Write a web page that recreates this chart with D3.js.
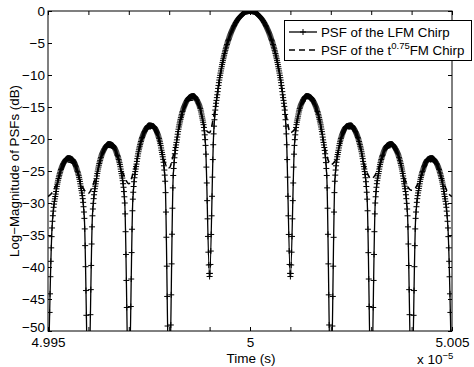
<!DOCTYPE html>
<html>
<head>
<meta charset="utf-8">
<script src="https://cdn.jsdelivr.net/npm/d3@7"></script>
<style>
  body { margin: 0; background: #fff; }
  svg { display: block; font-family: "Liberation Sans", Arial, sans-serif; }
</style>
</head>
<body>
<svg id="chart" width="474" height="367"></svg>
<script>
// samples are 0.0001 (x 1e-5 s) apart, starting at the left edge
const timeStart = 4.995;
const timeStep = 0.0001;

// PSF of the LFM chirp (dB)
const lfmPsf = [
  -60, -33.9, -28.2, -25.2, -23.6, -23.0, -23.2, -24.5, -27.0, -32.4,
  -60, -32.0, -26.2, -23.1, -21.5, -20.8, -21.0, -22.2, -24.7, -30.0,
  -60, -29.4, -23.5, -20.4, -18.7, -17.9, -18.0, -19.0, -21.4, -26.6,
  -60, -25.7, -19.7, -16.4, -14.5, -13.5, -13.3, -14.1, -16.1, -21.0,
  -41.5, -19.2, -12.6, -8.7, -5.9, -3.9, -2.4, -1.3, -0.6, -0.1,
  0,
  -0.1, -0.6, -1.3, -2.4, -3.9, -5.9, -8.7, -12.6, -19.2,
  -41.5, -21.0, -16.1, -14.1, -13.3, -13.5, -14.5, -16.4, -19.7, -25.7,
  -60, -26.6, -21.4, -19.0, -18.0, -17.9, -18.7, -20.4, -23.5, -29.4,
  -60, -30.0, -24.7, -22.2, -21.0, -20.8, -21.5, -23.1, -26.2, -32.0,
  -60, -32.4, -27.0, -24.5, -23.2, -23.0, -23.6, -25.2, -28.2, -33.9,
  -60
];

// PSF of the t^0.75 FM chirp (dB)
const nlfmPsf = [
  -29.0, -28.4, -27.2, -25.5, -24.2, -23.6, -23.8, -24.8, -26.6, -28.0,
  -28.5, -27.4, -25.6, -23.4, -21.9, -21.3, -21.5, -22.6, -24.4, -26.0,
  -27.0, -25.5, -23.2, -20.8, -19.1, -18.4, -18.5, -19.5, -21.6, -23.8,
  -24.5, -22.6, -19.8, -16.9, -15.0, -14.0, -13.9, -14.6, -16.3, -18.5,
  -19.0, -16.5, -12.8, -8.8, -5.9, -3.9, -2.4, -1.3, -0.6, -0.1,
  0,
  -0.1, -0.6, -1.3, -2.4, -3.9, -5.9, -8.8, -12.8, -16.5,
  -19.0, -18.5, -16.3, -14.6, -13.9, -14.0, -15.0, -16.9, -19.8, -22.6,
  -24.0, -23.5, -21.6, -19.5, -18.5, -18.4, -19.1, -20.8, -23.2, -25.3,
  -26.2, -25.6, -24.2, -22.6, -21.5, -21.3, -21.9, -23.4, -25.6, -27.4,
  -28.0, -27.6, -26.4, -24.8, -23.8, -23.5, -24.0, -25.3, -27.0, -28.4,
  -29.0
];

const timeTicks = [4.995, 4.996, 4.997, 4.998, 4.999, 5, 5.001, 5.002, 5.003, 5.004, 5.005];
const timeTickLabels = ["4.995", "", "", "", "", "5", "", "", "", "", "5.005"];
const dbTicks = [0, -5, -10, -15, -20, -25, -30, -35, -40, -45, -50];

const legendLabels = ["PSF of the LFM Chirp", "PSF of the t", "0.75", "FM Chirp"];

const box = { left: 48, right: 452, top: 11, bottom: 331 };
const fontSize = 13.5;

const $svg = d3.select("svg#chart");

const x = d3.scaleLinear().domain([4.995, 5.005]).range([box.left, box.right]);
const y = d3.scaleLinear().domain([-50, 0]).range([box.bottom, box.top]);

$svg.append("defs").append("clipPath").attr("id", "plot-clip")
  .append("rect")
  .attr("x", box.left).attr("y", box.top)
  .attr("width", box.right - box.left).attr("height", box.bottom - box.top);

const toPoints = (vals) => vals.map((v, i) => [timeStart + i * timeStep, v]);

const line = d3.line()
  .x((d) => x(d[0]))
  .y((d) => y(d[1]))
  .curve(d3.curveMonotoneX);

const $plot = $svg.append("g").attr("clip-path", "url(#plot-clip)");

const $solid = $plot.append("path")
  .attr("d", line(toPoints(lfmPsf)))
  .attr("fill", "none")
  .attr("stroke", "#000")
  .attr("stroke-width", 1.3);

$plot.append("path")
  .attr("d", line(toPoints(nlfmPsf)))
  .attr("fill", "none")
  .attr("stroke", "#000")
  .attr("stroke-width", 1.6)
  .attr("stroke-dasharray", "6,4");

// '+' markers, one every 0.00001 along the time axis, sitting on the drawn curve
const node = $solid.node();
const len = node.getTotalLength();
const walk = [];
for (let s = 0; s <= len; s += 0.2) walk.push(node.getPointAtLength(s));

const markerStep = x(timeStart + 0.00001) - x(timeStart);
const markerPts = [];
let j = 0;
for (let mx = box.left; mx <= box.right + 0.01; mx += markerStep) {
  while (j < walk.length - 2 && walk[j + 1].x < mx) j++;
  const a = walk[j], b = walk[j + 1];
  const t = b.x === a.x ? 0 : Math.max(0, Math.min(1, (mx - a.x) / (b.x - a.x)));
  markerPts.push([mx, a.y + (b.y - a.y) * t]);
}

$plot.append("path")
  .attr("d", markerPts.map(([px, py]) => `M${px - 3},${py}h6M${px},${py - 3}v6`).join(""))
  .attr("fill", "none")
  .attr("stroke", "#000")
  .attr("stroke-width", 1);

// axes, MATLAB style: inward ticks on all four sides
const styleAxis = (g) => {
  g.select(".domain").remove();
  g.selectAll(".tick line").attr("stroke", "#000");
  g.selectAll("text").attr("font-size", fontSize).attr("fill", "#000").attr("font-family", null);
};

$svg.append("g")
  .attr("transform", `translate(0,${box.bottom})`)
  .call(d3.axisBottom(x).tickValues(timeTicks).tickSize(-4).tickPadding(6.5)
    .tickFormat((d, i) => timeTickLabels[i]))
  .call(styleAxis);

$svg.append("g")
  .attr("transform", `translate(0,${box.top})`)
  .call(d3.axisTop(x).tickValues(timeTicks).tickSize(-4).tickFormat(""))
  .call(styleAxis);

$svg.append("g")
  .attr("transform", `translate(${box.left},0)`)
  .call(d3.axisLeft(y).tickValues(dbTicks).tickSize(-4).tickPadding(3)
    .tickFormat((d) => (d < 0 ? "\u2212" + Math.abs(d) : d)))
  .call(styleAxis)
  .call((g) => g.selectAll(".tick text").filter((d) => d === -50).attr("dy", "0.05em"));

$svg.append("g")
  .attr("transform", `translate(${box.right},0)`)
  .call(d3.axisRight(y).tickValues(dbTicks).tickSize(-4).tickFormat(""))
  .call(styleAxis);

$svg.append("rect")
  .attr("x", box.left).attr("y", box.top)
  .attr("width", box.right - box.left).attr("height", box.bottom - box.top)
  .attr("fill", "none").attr("stroke", "#000").attr("stroke-width", 1);

// axis titles
$svg.append("text")
  .attr("x", 251).attr("y", 362.5)
  .attr("text-anchor", "middle").attr("font-size", fontSize)
  .text("Time (s)");

const $exp = $svg.append("text")
  .attr("x", 417).attr("y", 364).attr("font-size", fontSize);
$exp.append("tspan").text("x 10");
$exp.append("tspan").attr("dy", -5).attr("font-size", 9.5).text("\u22125");

$svg.append("text")
  .attr("transform", "translate(19,171) rotate(-90)")
  .attr("text-anchor", "middle").attr("font-size", 13.3)
  .text("Log\u2212Magnitude of PSFs (dB)");

// legend
const $legend = $svg.append("g");
$legend.append("rect")
  .attr("x", 284.5).attr("y", 20.5).attr("width", 187).attr("height", 40)
  .attr("fill", "#fff").attr("stroke", "#000").attr("stroke-width", 1);

$legend.append("line")
  .attr("x1", 289).attr("x2", 317).attr("y1", 32).attr("y2", 32)
  .attr("stroke", "#000").attr("stroke-width", 1.3);
$legend.append("path")
  .attr("d", "M300,32h6M303,29v6")
  .attr("stroke", "#000").attr("stroke-width", 1);
$legend.append("line")
  .attr("x1", 289).attr("x2", 317).attr("y1", 50).attr("y2", 50)
  .attr("stroke", "#000").attr("stroke-width", 1.6).attr("stroke-dasharray", "6,4");

$legend.append("text")
  .attr("x", 321).attr("y", 37).attr("font-size", 13.3)
  .text(legendLabels[0]);

const $l2 = $legend.append("text")
  .attr("x", 321).attr("y", 55).attr("font-size", 13.3);
$l2.append("tspan").text(legendLabels[1]);
$l2.append("tspan").attr("dy", -6).attr("font-size", 9.5).text(legendLabels[2]);
$l2.append("tspan").attr("dy", 6).text(legendLabels[3]);
</script>
</body>
</html>
